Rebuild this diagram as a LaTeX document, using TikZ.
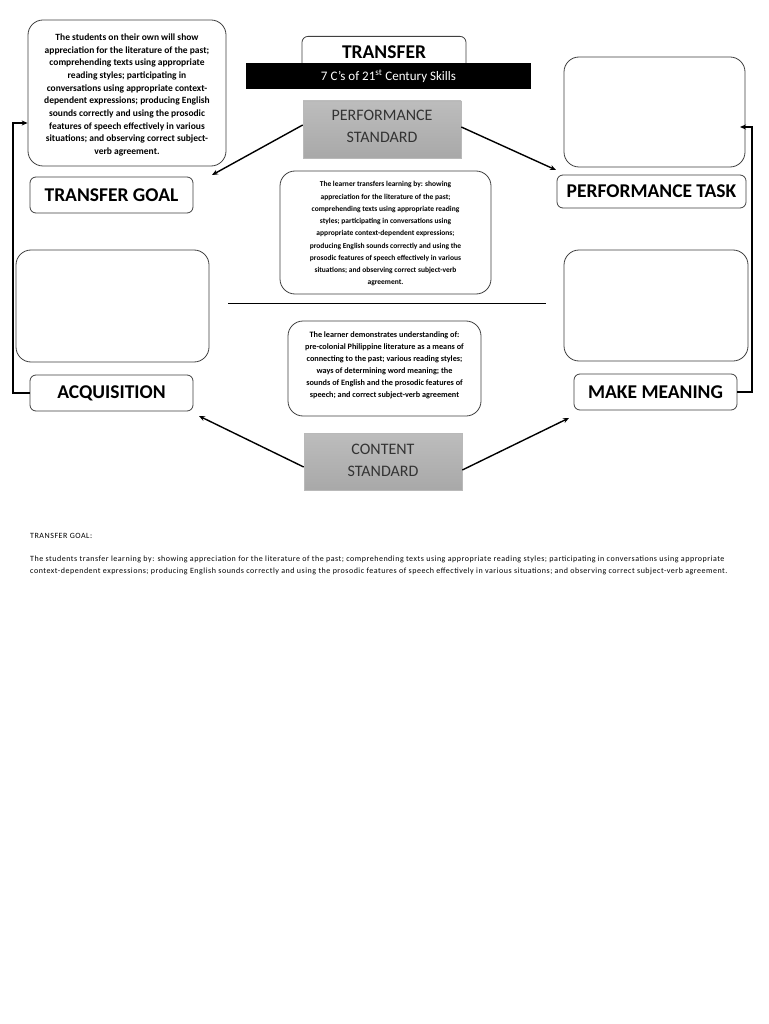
\documentclass[tikz,border=0pt]{standalone}
\usepackage{fontspec}
\setmainfont{Carlito}
\newfontfamily\spacedfont[LetterSpace=6.5]{Carlito}
\usetikzlibrary{arrows.meta}
\begin{document}
\begin{tikzpicture}[x=1pt,y=-1pt,
  rbox/.style={draw=black!75, line width=0.8pt, rounded corners=15pt, fill=white},
  lbl/.style={draw=black!75, line width=0.8pt, rounded corners=6pt, fill=white, font=\fontsize{19.5}{22}\selectfont\bfseries},
  std/.style={draw=gray!55, line width=0.6pt, top color=gray!52, bottom color=gray!68},
  stdtext/.style={text=black!80, align=center, font=\fontsize{16}{22}\selectfont},
  conn/.style={line width=1.4pt, -{Stealth[length=6pt,width=5pt]}},
  link/.style={line width=1.6pt, -{Stealth[length=6pt,width=5pt]}},
  small/.style={align=center, font=\fontsize{9.5}{12.7}\selectfont\bfseries}
]
\useasboundingbox (0,0) rectangle (768,1024);
\fill[white] (0,0) rectangle (768,1024);

% top-left box
\node[rbox, minimum width=198pt, minimum height=146pt] (tl) at (127,93) {};
\node[small] (tltext) at (127,95) {The students on their own will show\\appreciation for the literature of the past;\\comprehending texts using appropriate\\reading styles; participating in\\conversations using appropriate context-\\dependent expressions; producing English\\sounds correctly and using the prosodic\\features of speech effectively in various\\situations; and observing correct subject-\\verb agreement.};

% transfer header
\node[draw=black!75, line width=0.8pt, rounded corners=6pt, fill=white, minimum width=164pt, minimum height=36pt, anchor=north] (tr) at (384,36) {};
\node[font=\fontsize{19.5}{22}\selectfont\bfseries] (trtext) at (384,52) {TRANSFER};
\node[fill=black, minimum width=285pt, minimum height=26pt, inner sep=0pt, text=white, font=\fontsize{13}{15}\selectfont] (band) at (388.5,76) {7 C’s of 21\textsuperscript{st} Century Skills};

% performance standard
\node[std, minimum width=158pt, minimum height=57pt, inner sep=0pt] (ps) at (382,129.5) {};
\node[stdtext] (pstext) at (382,126) {PERFORMANCE\\STANDARD};

% left column
\node[lbl, minimum width=163pt, minimum height=36pt] (tg) at (111.5,195) {TRANSFER GOAL};
\node[rbox, minimum width=193pt, minimum height=112pt] (le) at (112.5,306) {};
\node[lbl, minimum width=163pt, minimum height=36pt] (acq) at (111.5,393) {ACQUISITION};

% center
\node[rbox, minimum width=211pt, minimum height=123pt] (cu) at (385.5,232.5) {};
\node[align=center, font=\fontsize{7.5}{12.25}\selectfont\bfseries] (cutext) at (385.5,234) {The learner transfers learning by: showing\\appreciation for the literature of the past;\\comprehending texts using appropriate reading\\styles; participating in conversations using\\appropriate context-dependent expressions;\\producing English sounds correctly and using the\\prosodic features of speech effectively in various\\situations; and observing correct subject-verb\\agreement.};
\coordinate (hl) at (228,303);
\coordinate (hr) at (546,303);
\draw[line width=0.8pt] (hl) -- (hr);
\node[rbox, minimum width=193pt, minimum height=95pt] (cl) at (384.5,368.5) {};
\node[align=center, font=\fontsize{8.2}{11.9}\selectfont\bfseries] (cltext) at (384.5,365.5) {The learner demonstrates understanding of:\\pre-colonial Philippine literature as a means of\\connecting to the past; various reading styles;\\ways of determining word meaning; the\\sounds of English and the prosodic features of\\speech; and correct subject-verb agreement};
\node[std, minimum width=158pt, minimum height=57pt, inner sep=0pt] (cs) at (383,461.5) {};
\node[stdtext] (cstext) at (383,460.5) {CONTENT\\STANDARD};

% right column
\node[rbox, minimum width=181pt, minimum height=110pt] (rt) at (654.5,112) {};
\node[lbl, minimum width=189pt, minimum height=33pt] (pt) at (651.5,191.5) {PERFORMANCE TASK};
\node[rbox, minimum width=184pt, minimum height=111pt] (rm) at (656,305.5) {};
\node[lbl, minimum width=163pt, minimum height=36pt] (mm) at (655.5,392) {MAKE MEANING};

% diagonal arrows
\coordinate (a1) at (212,175);
\coordinate (a2) at (556,170);
\coordinate (a3) at (199,416);
\coordinate (a4) at (569,418);
\draw[conn] (ps.west |- 0,125) -- (a1);
\draw[conn] (ps.east |- 0,127) -- (a2);
\draw[conn] (cs.west |- 0,467) -- (a3);
\draw[conn] (cs.east |- 0,470) -- (a4);

% side links
\coordinate (lc) at (13,123);
\draw[link] (acq.west) -| (lc) -- (tl.west |- lc);
\coordinate (rc) at (752,127);
\coordinate (re) at (740,127);
\draw[link] (mm.east) -| (rc) -- (re);

% bottom text
\node[anchor=west, inner sep=0pt, font=\fontsize{8}{9}\spacedfont] (btitle) at (30,536) {TRANSFER GOAL:};
\node[anchor=north west, inner sep=0pt, align=left, font=\fontsize{8}{12}\spacedfont] (bpara) at (30,556) {The students transfer learning by: showing appreciation for the literature of the past; comprehending texts using appropriate reading styles; participating in conversations using appropriate\\context-dependent expressions; producing English sounds correctly and using the prosodic features of speech effectively in various situations; and observing correct subject-verb agreement.};
\end{tikzpicture}
\end{document}
